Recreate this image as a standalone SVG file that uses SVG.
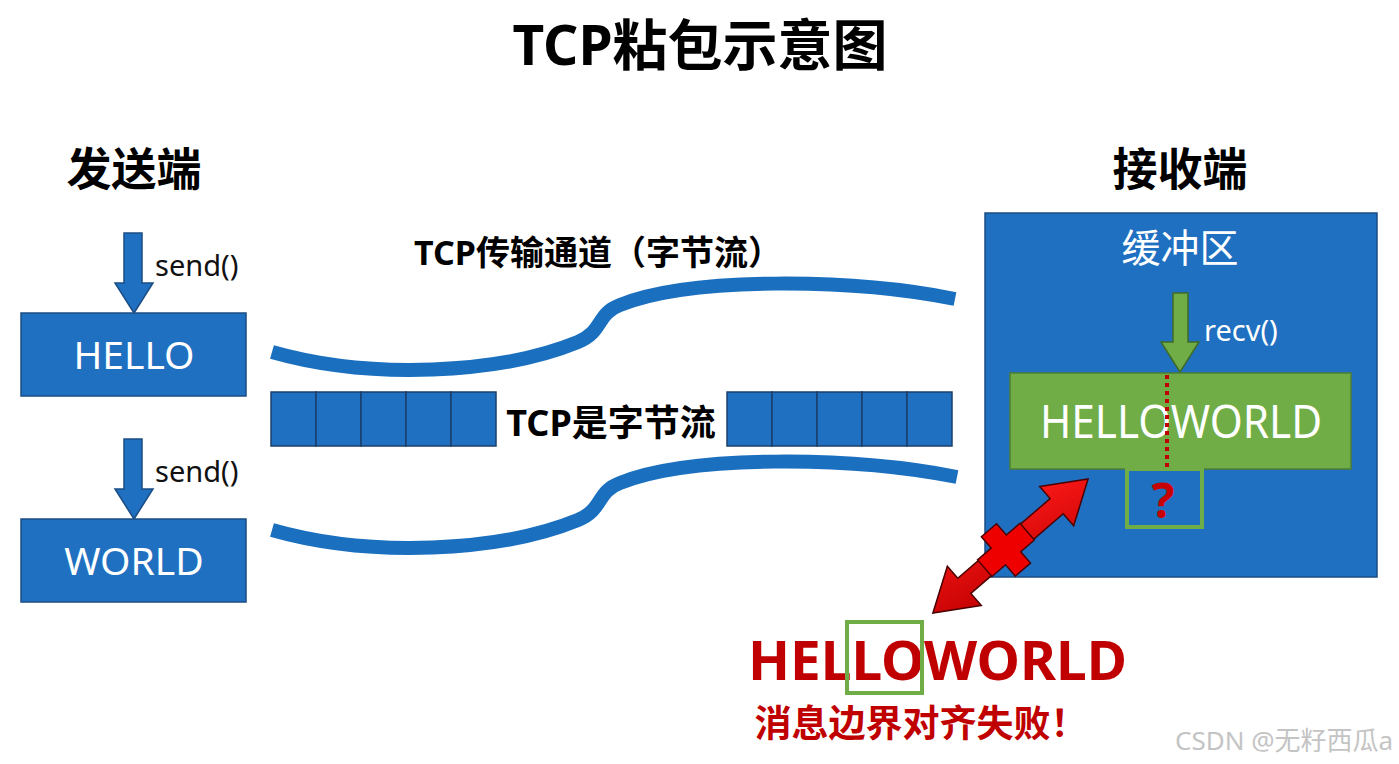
<svg xmlns="http://www.w3.org/2000/svg" width="1399" height="764" viewBox="0 0 1399 764">
<defs>
<style>
.t{font-family:"Noto Sans","Noto Sans CJK SC",sans-serif;}
.b{font-weight:bold;}
.blue{fill:#1f70c1;stroke:#1b4d85;stroke-width:1.5;}
.tube{fill:none;stroke:#1a6fbf;stroke-width:14;}
.cell{fill:#1f70c1;stroke:#1b3f6a;stroke-width:1.5;}
.wt{fill:#ffffff;}
.lbl{fill:#111;font-size:29px;}
</style>
<linearGradient id="rg" x1="0" y1="1" x2="1" y2="0">
<stop offset="0" stop-color="#c00000"/>
<stop offset="1" stop-color="#ff1a1a"/>
</linearGradient>
</defs>
<rect width="1399" height="764" fill="#ffffff"/>

<g id="title"><text class="t b" x="700" y="65" font-size="55" text-anchor="middle" fill="#000">TCP粘包示意图</text></g>

<g id="sender-label"><text class="t b" x="134" y="186" font-size="45" text-anchor="middle" fill="#000">发送端</text></g>
<g id="receiver-label"><text class="t b" x="1180" y="186" font-size="45" text-anchor="middle" fill="#000">接收端</text></g>

<g id="connectors">
<polygon class="blue" points="124,233 142,233 142,283 153,283 134,313 115,283 124,283"/>
<polygon class="blue" points="124,439 142,439 142,489 153,489 134,519 115,489 124,489"/>
<path class="tube" d="M272,352 C370,380 500,374 578,342 C604,331 596,314 620,305 C690,277 850,278 955,299"/>
<path class="tube" d="M272,530 C370,558 500,552 578,520 C604,509 596,492 620,483 C690,455 850,456 957,477"/>
</g>

<g id="send-labels">
<text class="t lbl" x="155" y="276">send()</text>
<text class="t lbl" x="155" y="482">send()</text>
</g>

<g id="hello">
<rect class="blue" x="21" y="313" width="225" height="83"/>
<text class="t wt" x="134" y="369" font-size="39" text-anchor="middle">HELLO</text>
</g>
<g id="world">
<rect class="blue" x="21" y="519" width="225" height="83"/>
<text class="t wt" x="134" y="575" font-size="39" text-anchor="middle">WORLD</text>
</g>

<g id="channel-label"><text class="t b" x="598" y="265" font-size="34" text-anchor="middle" fill="#000">TCP传输通道（字节流）</text></g>

<g id="bytes-left">
<rect class="cell" x="271" y="392" width="45" height="54"/>
<rect class="cell" x="316" y="392" width="45" height="54"/>
<rect class="cell" x="361" y="392" width="45" height="54"/>
<rect class="cell" x="406" y="392" width="45" height="54"/>
<rect class="cell" x="451" y="392" width="45" height="54"/>
</g>
<g id="bytes-label"><text class="t b" x="611" y="436" font-size="36" text-anchor="middle" fill="#000">TCP是字节流</text></g>
<g id="bytes-right">
<rect class="cell" x="727" y="392" width="45" height="54"/>
<rect class="cell" x="772" y="392" width="45" height="54"/>
<rect class="cell" x="817" y="392" width="45" height="54"/>
<rect class="cell" x="862" y="392" width="45" height="54"/>
<rect class="cell" x="907" y="392" width="45" height="54"/>
</g>

<g id="buffer">
<rect x="985" y="213" width="392" height="364" fill="#1f70c1" stroke="#1b4d85" stroke-width="1.5"/>
<text class="t wt" x="1180" y="262" font-size="39" text-anchor="middle">缓冲区</text>
<polygon points="1173,293 1188,293 1188,342 1199,342 1180,372 1161,342 1173,342" fill="#70ad47" stroke="#3f6b27" stroke-width="1.5"/>
<text class="t wt" x="1204" y="341" font-size="29">recv()</text>
</g>

<g id="recv-box">
<rect x="1010" y="373" width="341" height="96" fill="#70ad47" stroke="#4e7f30" stroke-width="1.5"/>
<text class="t wt" x="1040" y="438" font-size="46" textLength="282" lengthAdjust="spacingAndGlyphs">HELLOWORLD</text>
<line x1="1167" y1="375" x2="1167" y2="467" stroke="#c00000" stroke-width="4" stroke-dasharray="4 4"/>
</g>

<g id="question">
<rect x="1127" y="469" width="75" height="58" fill="none" stroke="#70ad47" stroke-width="4"/>
<text class="t b" x="1163" y="518" font-size="48" text-anchor="middle" fill="#c80000">?</text>
</g>

<g id="fail-arrow" transform="translate(1010.5,546) rotate(-40.8)">
<polygon points="-102.5,0 -61,-26 -61,-10 61,-10 61,-26 102.5,0 61,26 61,10 -61,10 -61,26" fill="url(#rg)" stroke="#4a0000" stroke-width="1.5"/>
<polygon points="-28,-11 -10,-11 -10,-26 10,-26 10,-11 28,-11 28,11 10,11 10,26 -10,26 -10,11 -28,11" transform="translate(-6,0)" fill="#ee0000" stroke="#4a0000" stroke-width="1.5"/>
</g>

<g id="result">
<text class="t b" x="748" y="680" font-size="54" fill="#c00000" textLength="379" lengthAdjust="spacingAndGlyphs">HELLOWORLD</text>
<rect x="847" y="622" width="75" height="71" fill="none" stroke="#70ad47" stroke-width="4"/>
<text class="t b" x="921" y="737" font-size="37" text-anchor="middle" fill="#c00000">消息边界对齐失败！</text>
</g>

<g id="watermark"><text class="t" x="1175" y="750" font-size="26" fill="#c4c4c4">CSDN @无籽西瓜a</text></g>
</svg>
